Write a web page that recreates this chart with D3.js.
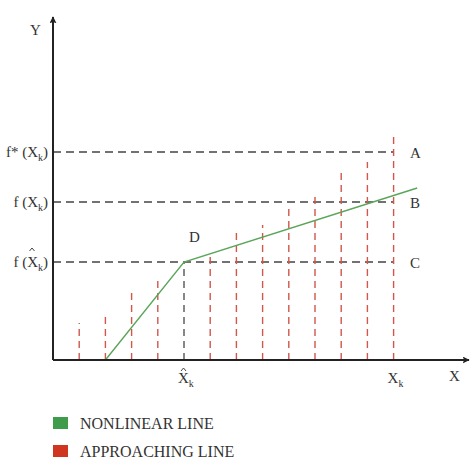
<!DOCTYPE html>
<html>
<head>
<meta charset="utf-8">
<script src="https://cdn.jsdelivr.net/npm/d3@7"></script>
<style>
  body { margin: 0; background: white; }
  text { font-family: "Liberation Serif", "DejaVu Serif", serif; fill: #333; }
</style>
</head>
<body>
<div id="canvas"></div>
<script>
var w = 474;
var h = 474;

// vertical approaching lines: position index and height
var barIndex = [1, 2, 3, 4, 5, 6, 7, 8, 9, 10, 11, 12, 13];
var barHeight = [37, 46, 67, 80, 98, 108, 127, 135, 152, 168, 188, 198, 228];
var hatIndex = 5; // the gray one at X-hat

// nonlinear line
var lineX = [2, 5, 13.9];
var lineY = [0, 98, 172];

// horizontal reference levels
var levelNames = ["A", "B", "C"];
var levelValues = [208, 158, 98];
var levelLabels = [["f* (X", "k", ")"], ["f (X", "k", ")"], ["f (X", "k", ")"]];

var legendLabels = ["NONLINEAR LINE", "APPROACHING LINE"];
var legendColors = ["#3f9c4a", "#d0361f"];

var xScale = d3.scaleLinear().domain([0, 13]).range([53, 393.6]);
var yScale = d3.scaleLinear().domain([0, 343]).range([360, 17]);

var canvas = d3.select("#canvas")
  .append("svg")
  .attr("width", w)
  .attr("height", h)
  .style("background-color", "white");

var defs = canvas.append("defs");
defs.append("marker")
  .attr("id", "arrow")
  .attr("viewBox", "0 0 10 10")
  .attr("refX", 9)
  .attr("refY", 5)
  .attr("markerWidth", 7)
  .attr("markerHeight", 7)
  .attr("markerUnits", "userSpaceOnUse")
  .attr("orient", "auto")
  .append("path")
  .attr("d", "M0,0 L10,5 L0,10 L2,5 Z")
  .attr("fill", "#222");

// horizontal dashed levels
canvas.selectAll(".level")
  .data(levelValues)
  .join("line")
  .attr("class", "level")
  .attr("x1", xScale(0))
  .attr("x2", xScale(13))
  .attr("y1", d => yScale(d))
  .attr("y2", d => yScale(d))
  .attr("stroke", "#444")
  .attr("stroke-width", 1.3)
  .attr("stroke-dasharray", "8,5");

// vertical dashed lines
canvas.selectAll(".bar")
  .data(barIndex)
  .join("line")
  .attr("class", "bar")
  .attr("x1", d => xScale(d))
  .attr("x2", d => xScale(d))
  .attr("y1", yScale(0))
  .attr("y2", (d, i) => yScale(barHeight[i]))
  .attr("stroke", d => d === hatIndex ? "#555" : "#d2564a")
  .attr("stroke-width", 1.4)
  .attr("stroke-dasharray", "7,5");

// nonlinear line
var line = d3.line().x(d => xScale(d[0])).y(d => yScale(d[1]));
canvas.append("path")
  .datum(lineX.map((x, i) => [x, lineY[i]]))
  .attr("d", line)
  .attr("fill", "none")
  .attr("stroke", "#5aa55a")
  .attr("stroke-width", 1.4);

// axes
canvas.append("line")
  .attr("x1", xScale(0)).attr("y1", yScale(0))
  .attr("x2", xScale(0)).attr("y2", yScale(343))
  .attr("stroke", "#222").attr("stroke-width", 2)
  .attr("marker-end", "url(#arrow)");
canvas.append("line")
  .attr("x1", xScale(0)).attr("y1", yScale(0))
  .attr("x2", 469).attr("y2", yScale(0))
  .attr("stroke", "#222").attr("stroke-width", 2)
  .attr("marker-end", "url(#arrow)");

canvas.append("text").attr("x", 30).attr("y", 35).style("font-size", "15px").text("Y");
canvas.append("text").attr("x", 449).attr("y", 381).style("font-size", "15px").text("X");

// level labels on the right
canvas.selectAll(".lvlName")
  .data(levelValues)
  .join("text")
  .attr("class", "lvlName")
  .attr("x", 410)
  .attr("y", d => yScale(d) + 6)
  .style("font-size", "15px")
  .text((d, i) => levelNames[i]);

canvas.append("text")
  .attr("x", xScale(hatIndex) + 5)
  .attr("y", yScale(98) - 20)
  .style("font-size", "15px")
  .text("D");

// level labels on the left
var left = canvas.selectAll(".lvlLeft")
  .data(levelValues)
  .join("text")
  .attr("class", "lvlLeft")
  .attr("x", 48)
  .attr("y", d => yScale(d) + 5)
  .attr("text-anchor", "end")
  .style("font-size", "15px");
left.append("tspan").text((d, i) => levelLabels[i][0]);
left.append("tspan").attr("dy", 4).style("font-size", "10px").text((d, i) => levelLabels[i][1]);
left.append("tspan").attr("dy", -4).text((d, i) => levelLabels[i][2]);

// small circumflex drawn as a path
function hat(cx, cy) {
  canvas.append("path")
    .attr("d", "M" + (cx - 2.5) + "," + (cy + 2) + " L" + cx + "," + (cy - 1) + " L" + (cx + 2.5) + "," + (cy + 2))
    .attr("fill", "none")
    .attr("stroke", "#333")
    .attr("stroke-width", 0.9);
}
hat(32, yScale(98) - 13);

// x tick labels
function xLabel(idx, withHat) {
  var t = canvas.append("text")
    .attr("x", xScale(idx) - 6)
    .attr("y", yScale(0) + 23)
    .style("font-size", "15px");
  t.append("tspan").text("X");
  t.append("tspan").attr("dy", 4).style("font-size", "10px").text("k");
  if (withHat) hat(xScale(idx) - 0.5, yScale(0) + 9);
}
xLabel(hatIndex, true);
xLabel(13, false);

// legend
var legend = canvas.append("g").attr("transform", "translate(53, 417)");
var items = legend.selectAll("g")
  .data(legendLabels)
  .join("g")
  .attr("transform", (d, i) => "translate(0," + (i * 28) + ")");
items.append("rect")
  .attr("width", 15)
  .attr("height", 12)
  .attr("fill", (d, i) => legendColors[i]);
items.append("text")
  .attr("x", 27)
  .attr("y", 11.5)
  .style("font-size", "16px")
  .text(d => d);
</script>
</body>
</html>
